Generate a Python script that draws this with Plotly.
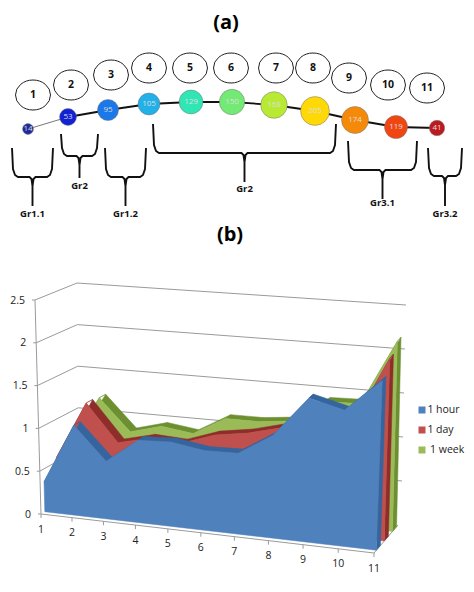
import numpy as np
import plotly.graph_objects as go

# panel (a)
group_ids = ["1", "2", "3", "4", "5", "6", "7", "8", "9", "10", "11"]
node_values = [14, 53, 95, 105, 129, 150, 168, 205, 174, 119, 41]
node_colors = ["#1c2c9c", "#1022d4", "#1a78e8", "#22b0e8", "#30e6b4", "#72ea74",
               "#b8ea34", "#ffd808", "#f58a0a", "#f04612", "#bc1a1e"]
node_x = [28, 68, 108, 149, 191, 232, 274, 315, 355, 396, 437]
node_y = [129, 117, 110, 104, 102, 102, 105, 111, 120, 127, 128]
ring_x = [33, 71, 111, 149, 190, 231, 276, 313, 349, 388, 427]
ring_y = [95, 85, 75, 68, 68, 68, 68, 68, 78, 85, 88]

brace_names = ["Gr1.1", "Gr2", "Gr1.2", "Gr2", "Gr3.1", "Gr3.2"]
brace_left = [12, 61, 105, 153, 348, 428]
brace_right = [53, 98, 146, 336, 417, 462]
brace_top = [148, 134, 148, 124, 141, 148]
brace_bar = [177, 156, 177, 153, 170, 176]
brace_tail = [206, 178, 206, 182, 199, 206]
brace_label_y = [215, 187, 215, 190, 204, 215]

# panel (b)
categories = list(range(1, 12))
hour_1 = [0.35, 1.05, 0.67, 0.95, 0.97, 0.91, 0.92, 1.16, 1.62, 1.52, 1.89]
day_1 = [0.55, 1.23, 0.80, 0.89, 0.87, 1.00, 1.06, 1.16, 1.30, 1.26, 2.05]
week_1 = [0.60, 1.21, 0.84, 0.94, 0.89, 1.10, 1.10, 1.14, 1.40, 1.41, 2.15]
y_ticks = [0, 0.5, 1, 1.5, 2, 2.5]
series_names = ["1 hour", "1 day", " 1 week"]

BLUE, BLUE_DK = "#4f81bd", "#34659f"
RED, RED_DK = "#c0504d", "#8f2d2a"
GREEN, GREEN_DK = "#9bbb59", "#6c8f30"
GRID = "#9a9a9a"
FONT = "Open Sans"

# corners of the 3d box in page pixels
FL, FR, BL, BR = (41, 514), (374, 553), (79, 491), (398, 525)
FLT, FRT, BLT, BRT = (35, 300), (382, 328), (77, 283), (403, 305)


def project(cat, depth, val):
    t = (cat - 1) / 10
    f = t / (t + 1.083 * (1 - t))  # ticks get wider to the right
    h = val / 2.5
    pts = []
    for a, b, c, d in [(FL, FR, BL, BR), (FLT, FRT, BLT, BRT)]:
        front = np.array(a) + f * (np.array(b) - np.array(a))
        back = np.array(c) + f * (np.array(d) - np.array(c))
        pts.append(front + depth * (back - front))
    p = pts[0] + h * (pts[1] - pts[0])
    return p[0], p[1]


def polys(shapes):
    xs, ys = [], []
    for s in shapes:
        xs += [p[0] for p in s] + [s[0][0], None]
        ys += [p[1] for p in s] + [s[0][1], None]
    return xs, ys


def line_trace(xs, ys, color, width):
    return go.Scatter(x=xs, y=ys, mode="lines", line=dict(color=color, width=width),
                      hoverinfo="skip", showlegend=False)


def fill_trace(shapes, color):
    xs, ys = polys(shapes)
    return go.Scatter(x=xs, y=ys, mode="lines", fill="toself", fillcolor=color,
                      line=dict(color=color, width=0.5), hoverinfo="skip", showlegend=False)


def text_trace(xs, ys, texts, size, color="#111111", pos="middle center", bold=False):
    labels = [f"<b>{t}</b>" for t in texts] if bold else texts
    return go.Scatter(x=xs, y=ys, mode="text", text=labels, textposition=pos,
                      textfont=dict(family=FONT, size=size, color=color),
                      hoverinfo="skip", showlegend=False)


def ribbon(values, d0, d1, color, dark):
    # top and end faces first, then the front face over them
    tops = []
    for i in range(len(categories) - 1):
        c0, c1 = categories[i], categories[i + 1]
        tops.append([project(c0, d0, values[i]), project(c1, d0, values[i + 1]),
                     project(c1, d1, values[i + 1]), project(c0, d1, values[i])])
    last = categories[-1]
    tops.append([project(last, d0, 0), project(last, d1, 0),
                 project(last, d1, values[-1]), project(last, d0, values[-1])])
    front = [project(c, d0, v) for c, v in zip(categories, values)]
    front += [project(categories[-1], d0, 0), project(categories[0], d0, 0)]
    return [fill_trace(tops, dark), fill_trace([front], color)]


def brace(x0, x1, top, bar, tail):
    mid = (x0 + x1) / 2
    xs = [x0, x0 + 1, x0 + 3, x0 + 6, mid - 3, mid - 1, mid, mid, mid, mid + 1, mid + 3,
          x1 - 6, x1 - 3, x1 - 1, x1]
    ys = [top, bar - 8, bar - 2, bar, bar, bar + 2, bar + 9, tail, bar + 9, bar + 2, bar,
          bar, bar - 2, bar - 8, top]
    return xs, ys


fig = go.Figure()

# panel titles
fig.add_trace(text_trace([226, 230], [24, 236], ["(a)", "(b)"], 20, "#000000", bold=True))

# rings over the chain
for x, y in zip(ring_x, ring_y):
    fig.add_shape(type="circle", x0=x - 17.5, x1=x + 17.5, y0=y - 15, y1=y + 15, layer="below",
                  line=dict(color="#222222", width=1), fillcolor="white")
fig.add_trace(text_trace(ring_x, ring_y, group_ids, 10.5, bold=True))

# chain of nodes
fig.add_trace(line_trace(node_x[:2], node_y[:2], "#777777", 1))
fig.add_trace(line_trace(node_x[1:], node_y[1:], "#111111", 1.8))
fig.add_trace(go.Scatter(
    x=node_x, y=node_y, mode="markers+text",
    text=[str(v) for v in node_values], textposition="middle center",
    textfont=dict(family=FONT, size=8, color="#dddddd"),
    marker=dict(size=[4.5 + 1.7 * np.sqrt(v) for v in node_values], color=node_colors,
                opacity=1, line=dict(color="#777777", width=0.5)),
    hoverinfo="skip", showlegend=False))

# group braces
for i in range(len(brace_names)):
    bx, by = brace(brace_left[i], brace_right[i], brace_top[i], brace_bar[i], brace_tail[i])
    fig.add_trace(line_trace(bx, by, "#111111", 1.9))
fig.add_trace(text_trace([(a + b) / 2 for a, b in zip(brace_left, brace_right)], brace_label_y,
                         brace_names, 9.5, bold=True))

# walls and gridlines
for v in y_ticks[1:]:
    p0, p1, p2 = project(1, 0, v), project(1, 1, v), project(11, 1, v)
    fig.add_trace(line_trace([p0[0], p1[0], p2[0] + 3], [p0[1], p1[1], p2[1]], GRID, 1))
a0, a1 = project(1, 0, 0), project(1, 0, 2.5)
fig.add_trace(line_trace([a0[0], a1[0]], [a0[1], a1[1]], GRID, 1))
f0, f1, f2 = project(1, 0, 0), project(11, 0, 0), project(11, 1, 0)
fig.add_trace(line_trace([f0[0], f1[0], f2[0]], [f0[1], f1[1], f2[1]], GRID, 1))
for v in y_ticks:
    p = project(1, 0, v)
    fig.add_trace(line_trace([p[0] - 3, p[0]], [p[1], p[1]], GRID, 1))
for c in categories:
    p = project(c, 0, 0)
    fig.add_trace(line_trace([p[0], p[0]], [p[1], p[1] + 4], GRID, 1))

# series back to front
for tr in ribbon(week_1, 0.77, 0.94, GREEN, GREEN_DK):
    fig.add_trace(tr)
for tr in ribbon(day_1, 0.43, 0.6, RED, RED_DK):
    fig.add_trace(tr)
for tr in ribbon(hour_1, 0.1, 0.27, BLUE, BLUE_DK):
    fig.add_trace(tr)

# axis labels
fig.add_trace(text_trace([project(1, 0, v)[0] - 10 for v in y_ticks],
                         [project(1, 0, v)[1] + 1 for v in y_ticks],
                         [str(v) for v in y_ticks], 10.5, "#222222", "middle left"))
fig.add_trace(text_trace([project(c, 0, 0)[0] for c in categories],
                         [project(c, 0, 0)[1] + 16 for c in categories],
                         [str(c) for c in categories], 10.5, "#222222"))

# legend
for name, color, ly in zip(series_names, [BLUE, RED, GREEN], [410, 430, 450]):
    fig.add_trace(go.Scatter(x=[422], y=[ly], mode="markers+text", text=[name],
                             textposition="middle right",
                             textfont=dict(family=FONT, size=10.5, color="#222222"),
                             marker=dict(symbol="square", size=7, color=color),
                             hoverinfo="skip", showlegend=False))

# the page body has an 8px margin, so the axes start 8px in
fig.update_xaxes(range=[8, 474], visible=False, fixedrange=True)
fig.update_yaxes(range=[590, 8], visible=False, fixedrange=True)
fig.update_layout(width=466, height=582, margin=dict(l=0, r=0, t=0, b=0),
                  paper_bgcolor="white", plot_bgcolor="white", showlegend=False)
fig.write_html("out.html")
